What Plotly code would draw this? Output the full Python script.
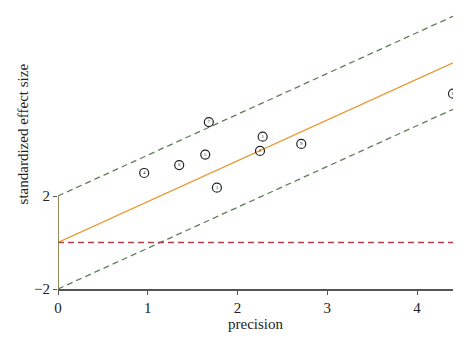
import plotly.graph_objects as go

# data
precision = [2.28, 2.25, 1.77, 0.96, 1.64, 1.35, 1.68, 4.40, 2.71]
effect = [4.55, 3.94, 2.36, 2.99, 3.78, 3.33, 5.18, 6.40, 4.24]
labels = ["1", "2", "3", "4", "5", "6", "7", "8", "9"]
slope = 1.757
x_end = 4.4
x_ticks = [0, 1, 2, 3, 4]
y_ticks = [-2, 2]
y_tick_text = ["\u22122", "2"]

serif = "Liberation Serif"
fig = go.Figure()

xs = [0, x_end]
# regression line
fig.add_trace(go.Scatter(x=xs, y=[slope * v for v in xs], mode="lines",
                         line=dict(color="#e8952f", width=1.3), hoverinfo="skip"))
# confidence bands
for off in (2, -2):
    fig.add_trace(go.Scatter(x=xs, y=[slope * v + off for v in xs], mode="lines",
                             line=dict(color="#5e7f58", width=1.3, dash="6px,4px"),
                             hoverinfo="skip"))
# zero line
fig.add_trace(go.Scatter(x=xs, y=[0, 0], mode="lines",
                         line=dict(color="#b04048", width=1.3, dash="6px,4px"),
                         hoverinfo="skip"))
# y axis segment
fig.add_trace(go.Scatter(x=[0, 0], y=[-2, 2], mode="lines",
                         line=dict(color="#8f8a5a", width=2), hoverinfo="skip"))
# points
fig.add_trace(go.Scatter(x=precision, y=effect, mode="markers+text", text=labels,
                         textposition="middle center",
                         textfont=dict(size=5, color="#222", family=serif),
                         marker=dict(size=9, color="rgba(255,255,255,0)",
                                     line=dict(color="#222", width=1.2))))

fig.update_layout(
    width=474, height=345, margin=dict(l=58, r=21, t=10, b=56),
    plot_bgcolor="white", paper_bgcolor="white", showlegend=False,
    font=dict(family=serif, size=15, color="#222"),
)
fig.update_xaxes(range=[0, x_end], tickvals=x_ticks, ticks="outside", ticklen=4,
                 tickcolor="#555", showline=True, linecolor="#555", linewidth=2,
                 showgrid=False, zeroline=False, tickfont=dict(family=serif, size=15),
                 title=dict(text="precision", standoff=2, font=dict(family=serif, size=15)))
fig.update_yaxes(range=[-2, 10], tickvals=y_ticks, ticktext=y_tick_text,
                 ticks="outside", ticklen=4, tickcolor="#555", showline=False,
                 showgrid=False, zeroline=False, tickfont=dict(family=serif, size=15))
fig.add_annotation(text="standardized effect size", textangle=-90,
                   xref="paper", yref="paper", x=-0.088, y=0.555,
                   xanchor="center", yanchor="middle", showarrow=False,
                   font=dict(family=serif, size=15, color="#222"))

fig.write_html("out.html")
